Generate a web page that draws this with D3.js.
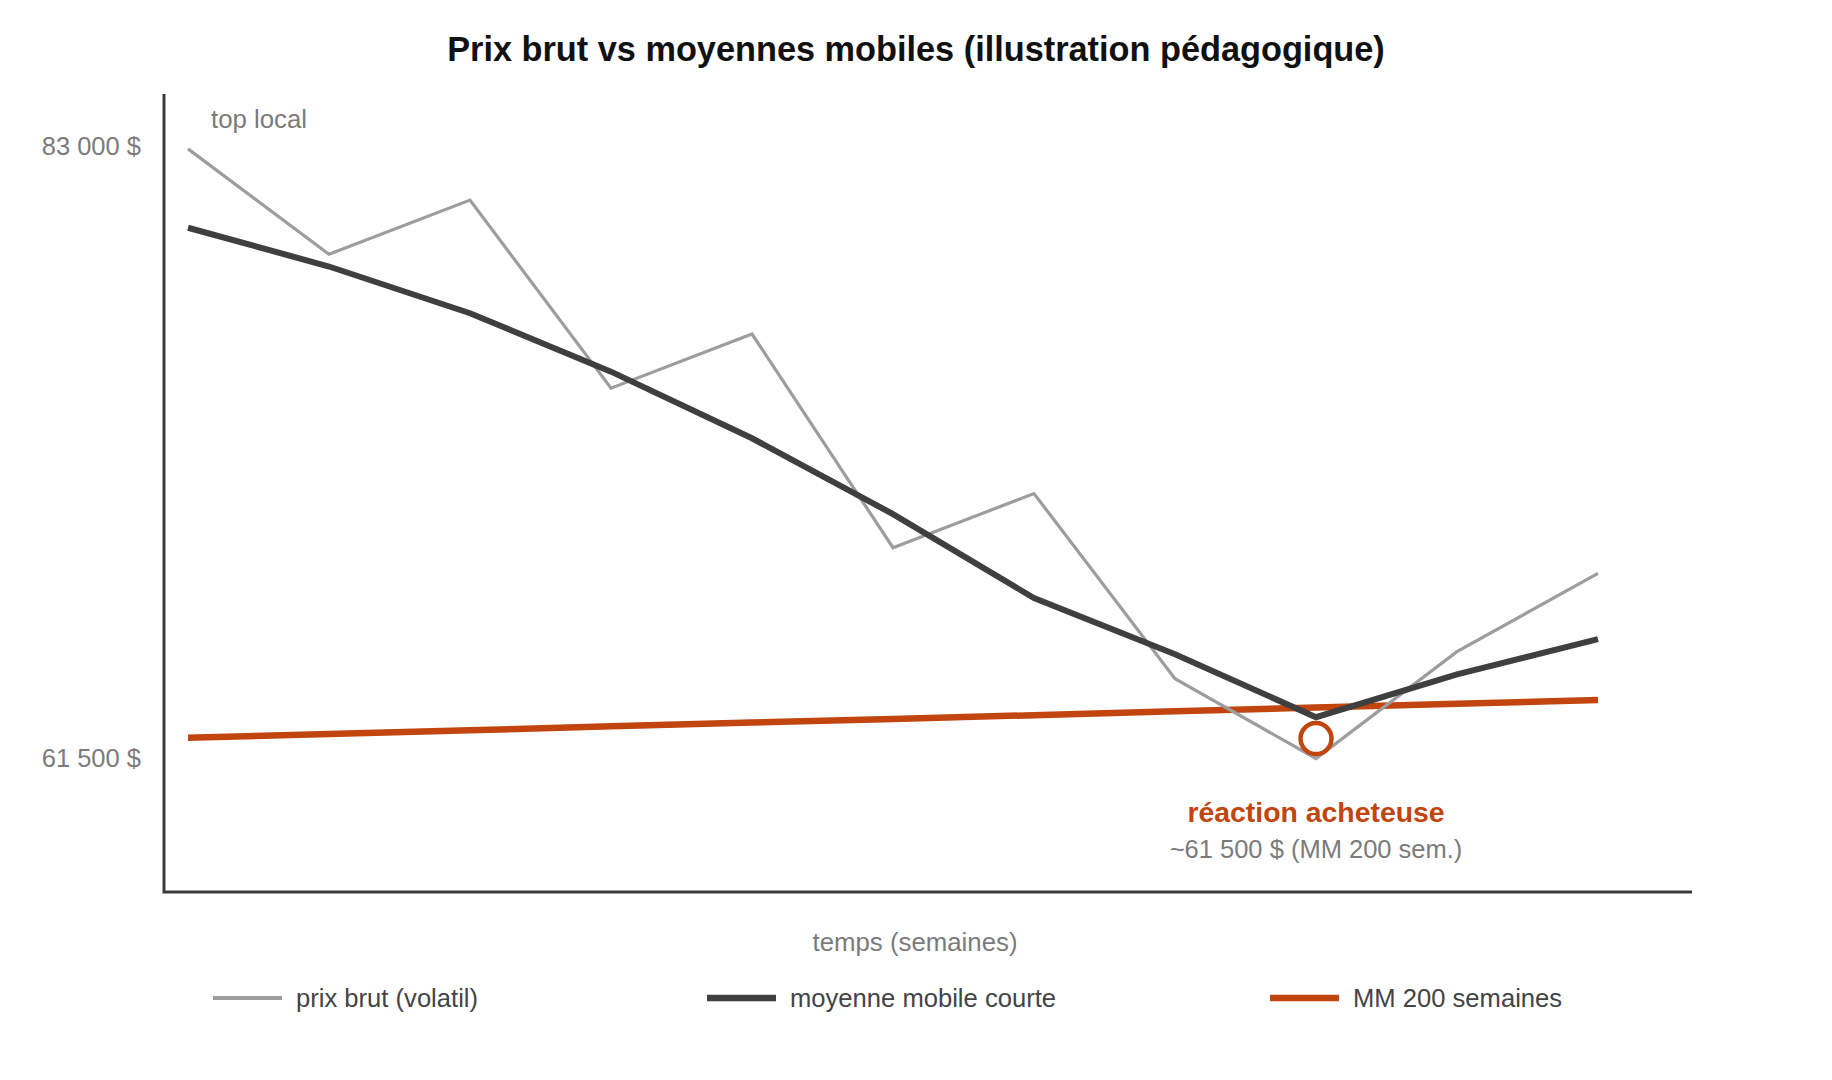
<!DOCTYPE html>
<html>
<head>
<meta charset="utf-8">
<script src="https://cdn.jsdelivr.net/npm/d3@7"></script>
<style>
	html, body { margin: 0; padding: 0; background: #fff; }
	svg { display: block; font-family: "Liberation Sans", Arial, Helvetica, sans-serif; }
</style>
</head>
<body>
<svg id="chart" width="1832" height="1080"></svg>
<script>
//weeks on x, 11 samples
var weeks = [0, 1, 2, 3, 4, 5, 6, 7, 8, 9, 10];
var rawPrice = [82900, 79200, 81100, 74500, 76400, 68900, 70800, 64300, 61500, 65250, 68000];
var shortMA = [80130, 78770, 77130, 75080, 72740, 70080, 67130, 65160, 62950, 64450, 65690];
var ma200 = [62230, 62360, 62490, 62630, 62760, 62890, 63020, 63160, 63290, 63420, 63555];
var yTicks = [61500, 83000];
var yTickLabels = ['61 500 $', '83 000 $'];
var seriesNames = ['prix brut (volatil)', 'moyenne mobile courte', 'MM 200 semaines'];
var seriesColors = ['#9d9d9d', '#3f3f3f', '#c2440f'];
var seriesWidths = [3.2, 6, 6.5];
var reactionWeek = 8;
var reactionValue = 62200;

var svg = d3.select('#chart');
var textGrey = '#7b7b7b';

var x = d3.scaleLinear().domain([0, 10]).range([188, 1598]);
var y = d3.scaleLinear().domain([61500, 83000]).range([758.5, 146]);

//title
svg.append('text')
	.attr('x', 916).attr('y', 61)
	.attr('text-anchor', 'middle')
	.attr('font-size', 34.3).attr('font-weight', 'bold')
	.attr('fill', '#111')
	.text('Prix brut vs moyennes mobiles (illustration pédagogique)');

//axes, just the two lines
svg.append('path')
	.attr('d', 'M164,94V892H1692')
	.attr('fill', 'none')
	.attr('stroke', '#3a3a3a')
	.attr('stroke-width', 3);

var yAxis = d3.axisLeft(y)
	.tickValues(yTicks)
	.tickFormat(function(d, i){ return yTickLabels[i]; })
	.tickSize(0)
	.tickPadding(0);
var gy = svg.append('g').attr('transform', 'translate(141,0)').call(yAxis);
gy.select('.domain').remove();
gy.selectAll('text')
	.attr('font-family', null)
	.attr('font-size', 25.5)
	.attr('fill', textGrey);

svg.append('text')
	.attr('x', 915).attr('y', 951)
	.attr('text-anchor', 'middle')
	.attr('font-size', 25.8).attr('fill', textGrey)
	.text('temps (semaines)');

svg.append('text')
	.attr('x', 211).attr('y', 128)
	.attr('font-size', 25.8).attr('fill', textGrey)
	.text('top local');

//series
var line = d3.line()
	.x(function(d, i){ return x(weeks[i]); })
	.y(function(d){ return y(d); });

[ma200, rawPrice, shortMA].forEach(function(s){
	var k = s === rawPrice ? 0 : (s === shortMA ? 1 : 2);
	svg.append('path')
		.datum(s)
		.attr('d', line)
		.attr('fill', 'none')
		.attr('stroke', seriesColors[k])
		.attr('stroke-width', seriesWidths[k])
		.attr('stroke-linejoin', 'miter');
});

//buyer reaction marker
svg.append('circle')
	.attr('cx', x(reactionWeek)).attr('cy', y(reactionValue))
	.attr('r', 15.5)
	.attr('fill', '#fff')
	.attr('stroke', seriesColors[2])
	.attr('stroke-width', 4.5);

svg.append('text')
	.attr('x', x(reactionWeek)).attr('y', 822)
	.attr('text-anchor', 'middle')
	.attr('font-size', 28.4).attr('font-weight', 'bold')
	.attr('fill', seriesColors[2])
	.text('réaction acheteuse');
svg.append('text')
	.attr('x', x(reactionWeek)).attr('y', 858)
	.attr('text-anchor', 'middle')
	.attr('font-size', 25.5)
	.attr('fill', textGrey)
	.text('~61 500 $ (MM 200 sem.)');

//legend
var legendX = [213, 707, 1270];
var legend = svg.selectAll('.legend')
	.data(seriesNames)
	.enter().append('g')
	.attr('class', 'legend')
	.attr('transform', function(d, i){ return 'translate(' + legendX[i] + ',998)'; });
legend.append('line')
	.attr('x1', 0).attr('x2', 69)
	.attr('stroke', function(d, i){ return seriesColors[i]; })
	.attr('stroke-width', function(d, i){ return i === 0 ? 4 : 6.5; });
legend.append('text')
	.attr('x', 83).attr('y', 9)
	.attr('font-size', 25.6)
	.attr('fill', '#444')
	.text(function(d){ return d; });
</script>
</body>
</html>
